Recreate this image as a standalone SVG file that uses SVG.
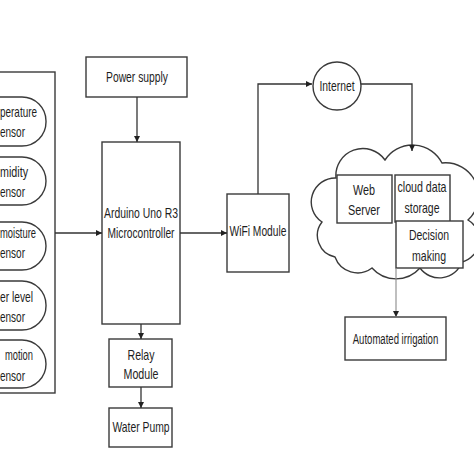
<svg xmlns="http://www.w3.org/2000/svg" width="474" height="474" viewBox="0 0 474 474">
<defs>
<style>
.box{fill:#fff;stroke:#3a3a3a;stroke-width:1.4}
.ln{fill:none;stroke:#333;stroke-width:1.3}
.lt{fill:none;stroke:#8a8a8a;stroke-width:1.1}
text{font-family:"Liberation Sans",Arial,sans-serif;font-size:14.5px;fill:#1e1e1e}
.c{text-anchor:middle}
</style>
<marker id="ah" viewBox="0 0 10 10" refX="10" refY="5" markerWidth="7" markerHeight="6" orient="auto" markerUnits="userSpaceOnUse">
<path d="M0,0 L10,5 L0,10 z" fill="#222"/>
</marker>
</defs>
<rect width="474" height="474" fill="#fff"/>

<g id="sensors">
<rect class="box" x="-10" y="72" width="65" height="321"/>
<rect class="box" x="-30" y="97" width="76" height="49" rx="24" ry="24"/>
<rect class="box" x="-30" y="157" width="76" height="48" rx="24" ry="24"/>
<rect class="box" x="-30" y="222" width="76" height="48" rx="24" ry="24"/>
<rect class="box" x="-30" y="281" width="76" height="49" rx="24" ry="24"/>
<rect class="box" x="-30" y="340" width="76" height="48" rx="24" ry="24"/>
<text x="0" y="117" textLength="37" lengthAdjust="spacingAndGlyphs">perature</text>
<text x="0" y="137" textLength="25" lengthAdjust="spacingAndGlyphs">ensor</text>
<text x="0" y="177" textLength="28" lengthAdjust="spacingAndGlyphs">midity</text>
<text x="0" y="197" textLength="25" lengthAdjust="spacingAndGlyphs">ensor</text>
<text x="0" y="238" textLength="36" lengthAdjust="spacingAndGlyphs">moisture</text>
<text x="0" y="258" textLength="25" lengthAdjust="spacingAndGlyphs">ensor</text>
<text x="0" y="302" textLength="33" lengthAdjust="spacingAndGlyphs">er level</text>
<text x="0" y="322" textLength="25" lengthAdjust="spacingAndGlyphs">ensor</text>
<text x="5" y="360" textLength="28" lengthAdjust="spacingAndGlyphs">motion</text>
<text x="0" y="381" textLength="25" lengthAdjust="spacingAndGlyphs">ensor</text>
</g>

<g id="power">
<rect class="box" x="86" y="57" width="101" height="40"/>
<text class="c" x="137" y="82" textLength="62" lengthAdjust="spacingAndGlyphs">Power supply</text>
</g>

<g id="arduino">
<rect class="box" x="102" y="142" width="78" height="182"/>
<text class="c" x="141" y="218" textLength="74" lengthAdjust="spacingAndGlyphs">Arduino Uno R3</text>
<text class="c" x="141" y="238" textLength="67" lengthAdjust="spacingAndGlyphs">Microcontroller</text>
</g>

<g id="relay">
<rect class="box" x="109" y="339" width="63" height="48"/>
<text class="c" x="141" y="360" textLength="27" lengthAdjust="spacingAndGlyphs">Relay</text>
<text class="c" x="141" y="379" textLength="35" lengthAdjust="spacingAndGlyphs">Module</text>
</g>

<g id="pump">
<rect class="box" x="109" y="408" width="63" height="39"/>
<text class="c" x="141" y="432" textLength="57" lengthAdjust="spacingAndGlyphs">Water Pump</text>
</g>

<g id="wifi">
<rect class="box" x="227" y="194" width="62" height="78"/>
<text class="c" x="258" y="236" textLength="57" lengthAdjust="spacingAndGlyphs">WiFi Module</text>
</g>

<g id="internet">
<circle class="box" cx="337" cy="86" r="24"/>
<text class="c" x="337" y="91" textLength="35" lengthAdjust="spacingAndGlyphs">Internet</text>
</g>

<g id="cloud">
<path class="box" d="M335 257 A22 22 0 0 1 322 222 A24 24 0 0 1 336 178 A27 27 0 0 1 385 160 A33 33 0 0 1 442 163 A33 33 0 0 1 468 220 A23 23 0 0 1 462 262 A24 24 0 0 1 420 268 A32 32 0 0 1 372 268 A24 24 0 0 1 335 257 Z"/>
</g>

<g id="webserver">
<rect class="box" x="337" y="175" width="55" height="48"/>
<text class="c" x="364" y="195" textLength="22" lengthAdjust="spacingAndGlyphs">Web</text>
<text class="c" x="364" y="215" textLength="32" lengthAdjust="spacingAndGlyphs">Server</text>
</g>

<g id="storage">
<rect class="box" x="395" y="175" width="55" height="47"/>
<text class="c" x="422" y="192" textLength="49" lengthAdjust="spacingAndGlyphs">cloud data</text>
<text class="c" x="422" y="213" textLength="35" lengthAdjust="spacingAndGlyphs">storage</text>
</g>

<g id="decision">
<rect class="box" x="396" y="221" width="67" height="47"/>
<text class="c" x="429" y="240" textLength="40" lengthAdjust="spacingAndGlyphs">Decision</text>
<text class="c" x="429" y="261" textLength="34" lengthAdjust="spacingAndGlyphs">making</text>
</g>

<g id="irrigation">
<rect class="box" x="345" y="317" width="101" height="43"/>
<text class="c" transform="translate(395.5 344) scale(0.66 1)" x="0" y="0">Automated irrigation</text>
</g>

<g id="connectors">
<path class="ln" d="M137 97 V142" marker-end="url(#ah)"/>
<path class="ln" d="M55 233 H102" marker-end="url(#ah)"/>
<path class="ln" d="M180 233 H227" marker-end="url(#ah)"/>
<path class="ln" d="M141 324 V339" marker-end="url(#ah)"/>
<path class="ln" d="M141 387 V408" marker-end="url(#ah)"/>
<path class="ln" d="M258 194 V84 H312" marker-end="url(#ah)"/>
<path class="ln" d="M361 84 H412 V151" marker-end="url(#ah)"/>
<path class="lt" d="M396 268 V317" marker-end="url(#ah)"/>
</g>
</svg>
